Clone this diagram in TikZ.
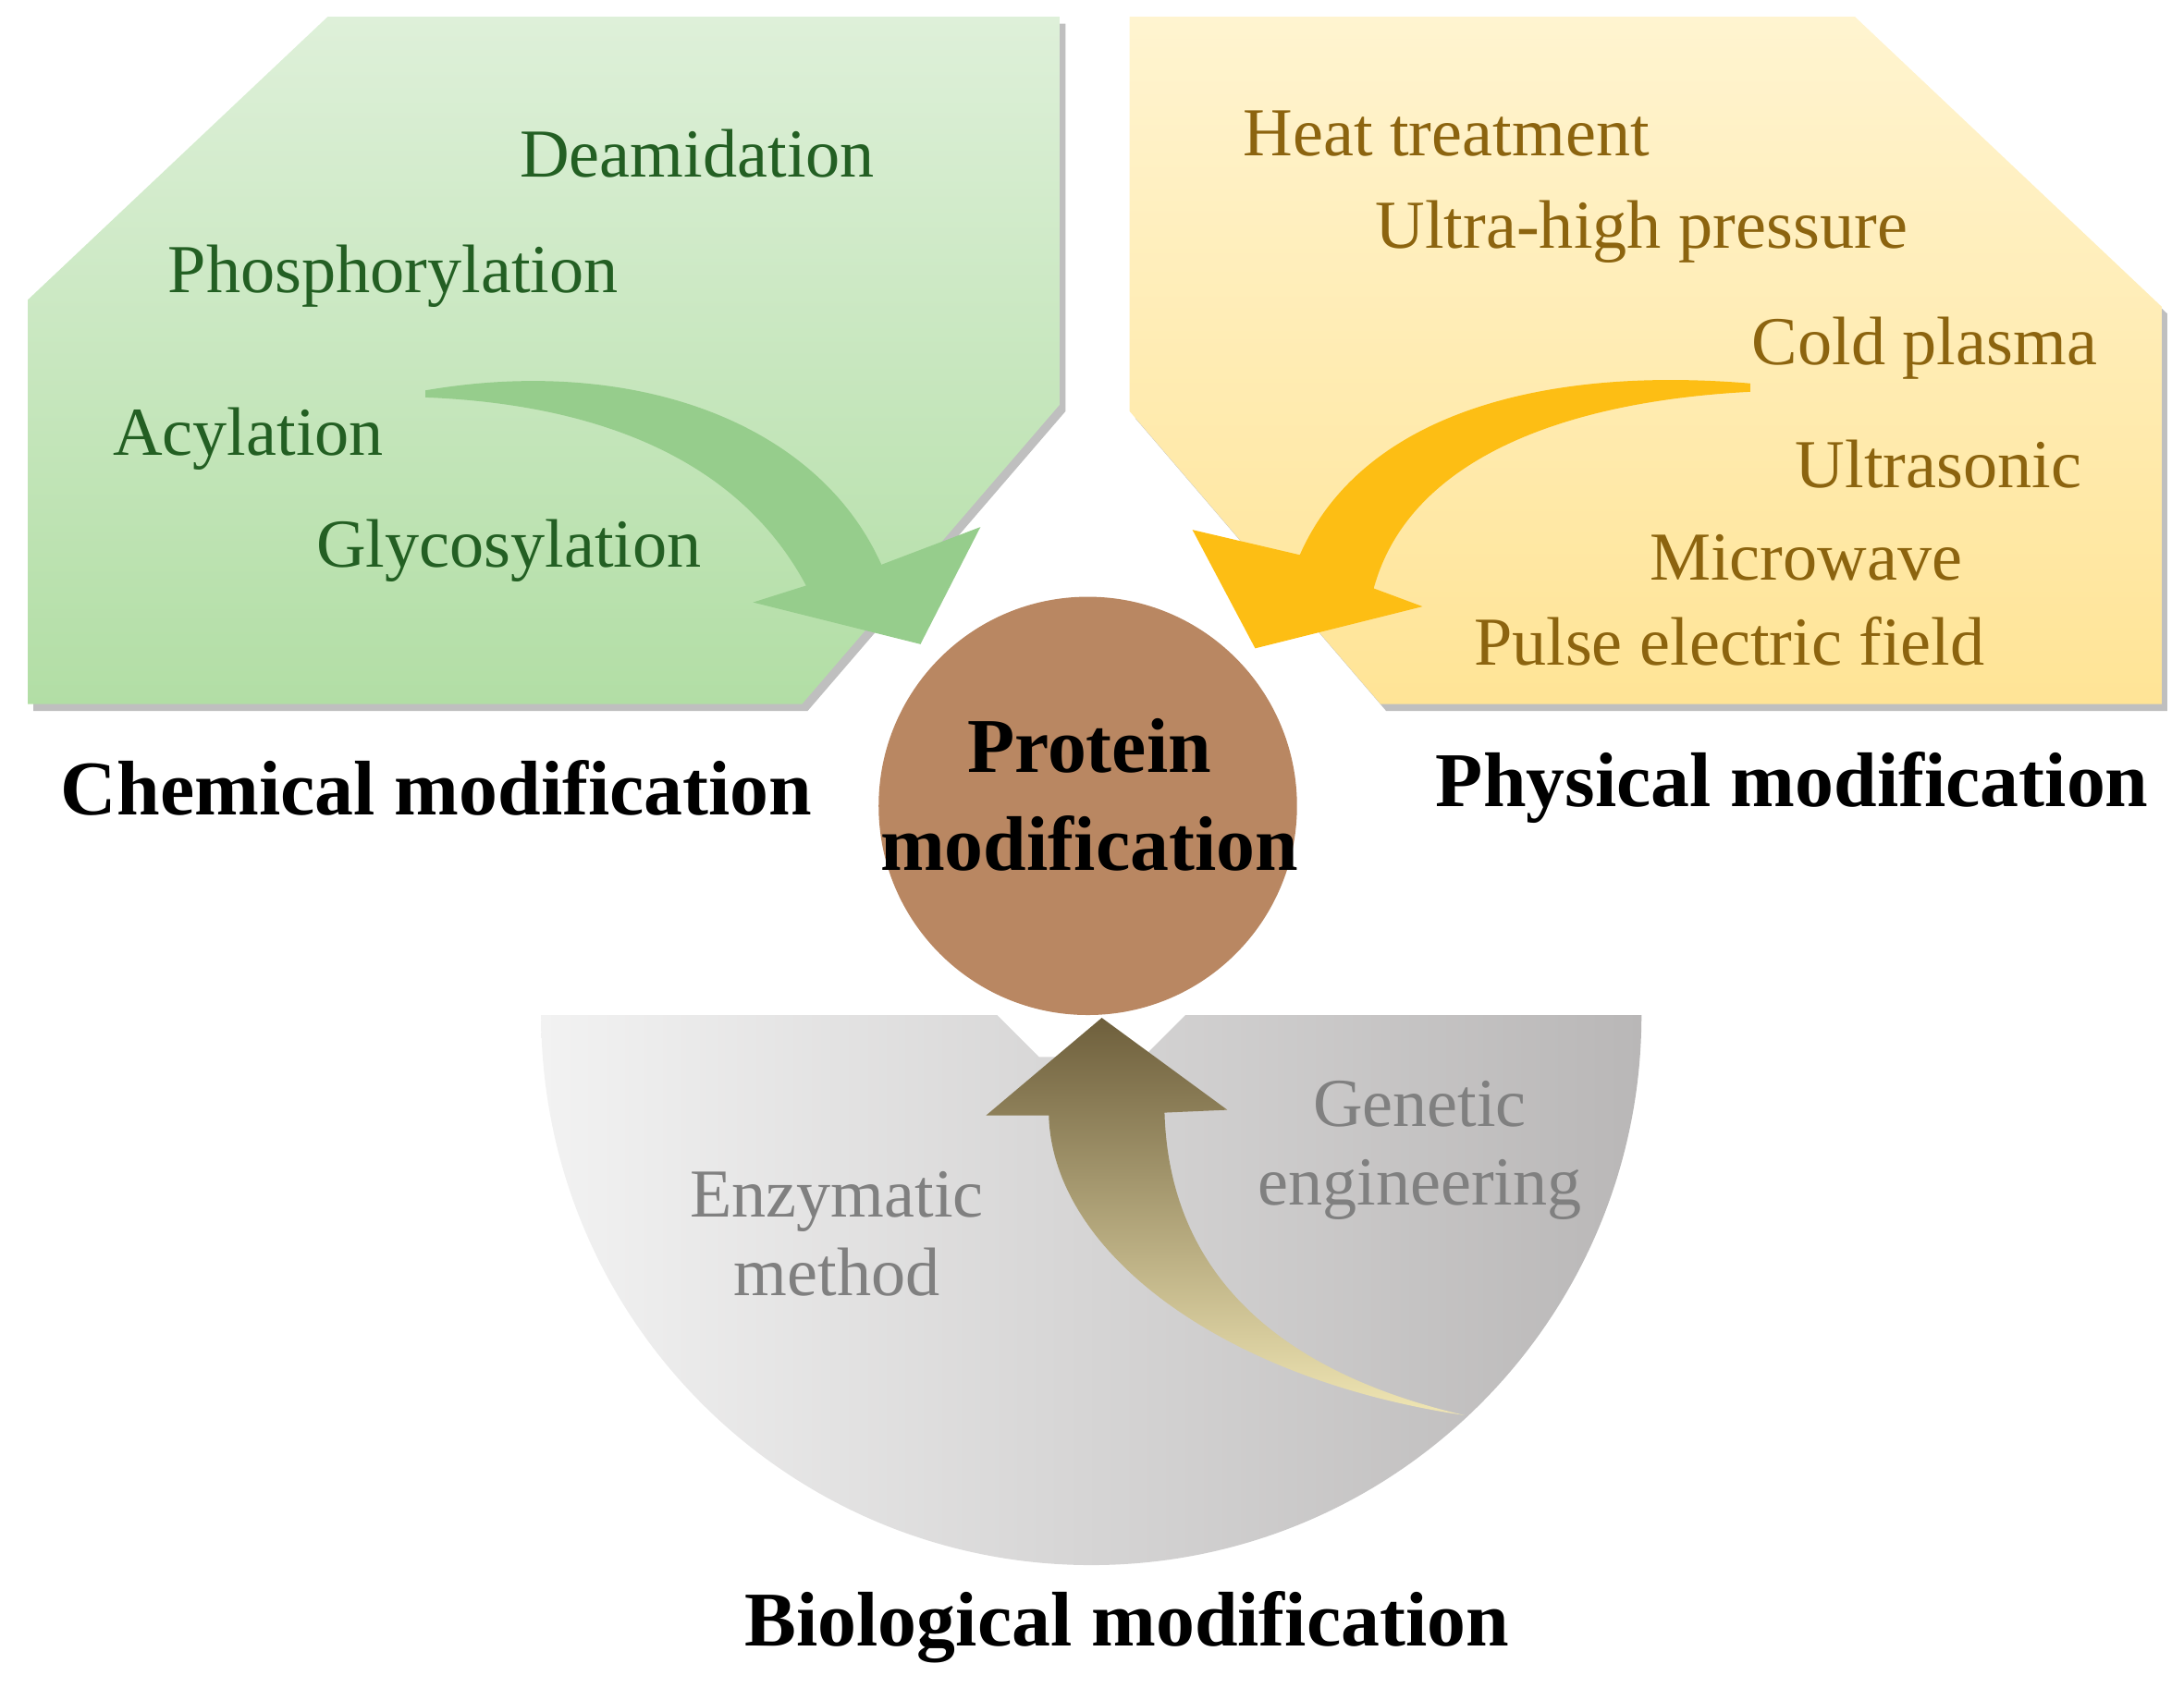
\documentclass[tikz,border=0pt]{standalone}
\usepackage{fontspec}
\setmainfont{Liberation Serif}
\definecolor{gtxt}{RGB}{35,95,35}
\definecolor{ytxt}{RGB}{140,100,15}
\definecolor{btxt}{RGB}{128,128,128}
\definecolor{brownc}{RGB}{185,135,98}
\definecolor{gtop}{RGB}{222,240,217}
\definecolor{gbot}{RGB}{178,222,165}
\definecolor{ytop}{RGB}{255,244,208}
\definecolor{ybot}{RGB}{255,228,150}
\definecolor{grl}{RGB}{242,242,242}
\definecolor{grr}{RGB}{185,183,183}
\definecolor{garrow}{RGB}{150,205,140}
\definecolor{yarrow}{RGB}{253,190,20}
\definecolor{btop}{RGB}{110,95,60}
\definecolor{bbot}{RGB}{240,230,180}
\begin{document}
\begin{tikzpicture}[x=0.01cm,y=-0.01cm,
  item/.style={font=\fontsize{14}{16}\selectfont},
  title/.style={font=\fontsize{15.8}{18}\selectfont\bfseries}]
\useasboundingbox (0,0) rectangle (1566,1210);
% shadows
\fill[black!25] (24,220)--(239,17)--(764,17)--(764,295)--(579,510)--(24,510)--cycle;
\fill[black!25] (814,17)--(1334,17)--(1554,225)--(1554,510)--(994,510)--(814,300)--cycle;
% green panel
\shade[top color=gtop,bottom color=gbot]
  (20,215)--(235,12)--(760,12)--(760,290)--(575,505)--(20,505)--cycle;
% yellow panel
\shade[top color=ytop,bottom color=ybot]
  (810,12)--(1330,12)--(1550,220)--(1550,505)--(990,505)--(810,295)--cycle;
% gray half disc
\shade[left color=grl,right color=grr]
  (388,728)--(715,728)--(745,758)--(820,758)--(850,728)--(1177,728) arc[start angle=0,end angle=180,radius=394.5]--cycle;
% green arrow
\fill[garrow] (305,280) .. controls (450,255) and (585,300) .. (632,405)
  -- (703,378) -- (660,462) -- (540,432) -- (578,420) .. controls (530,330) and (430,290) .. (305,285) -- cycle;
% yellow arrow
\fill[yarrow] (1255,275) .. controls (1100,262) and (975,300) .. (932,398)
  -- (855,380) -- (900,465) -- (1020,435) -- (985,422) .. controls (1010,330) and (1120,288) .. (1255,281) -- cycle;
% brown arrow
\shade[top color=btop,bottom color=bbot]
  (1050,1015) .. controls (880,990) and (755,900) .. (752,800) -- (707,800) -- (790,730) -- (880,796)
  -- (835,798) .. controls (838,900) and (900,980) .. (1050,1015) -- cycle;
% center circle
\fill[brownc] (780,578) circle[radius=150];
\node[align=center,font=\fontsize{15.8}{20}\selectfont\bfseries] (pm) at (781,570) {Protein\\modification};
% texts
\node[item,text=gtxt] (t1) at (500,110) {Deamidation};
\node[item,text=gtxt] (t2) at (282,198) {Phosphorylation};
\node[item,text=gtxt] (t3) at (178,315) {Acylation};
\node[item,text=gtxt] (t4) at (365,395) {Glycosylation};
\node[item,text=ytxt] (p1) at (1037,96) {Heat treatment};
\node[item,text=ytxt] (p2) at (1177,166) {Ultra-high pressure};
\node[item,text=ytxt] (p3) at (1380,250) {Cold plasma};
\node[item,text=ytxt] (p4) at (1390,333) {Ultrasonic};
\node[item,text=ytxt] (p5) at (1295,400) {Microwave};
\node[item,text=ytxt] (p6) at (1240,460) {Pulse electric field};
\node[item,text=btxt,align=center] (b1) at (600,885) {Enzymatic\\method};
\node[item,text=btxt,align=center] (b2) at (1018,825) {Genetic\\engineering};
\node[title] (c) at (313,565) {Chemical modification};
\node[title] (ph) at (1285,565) {Physical modification};
\node[title] (bi) at (808,1167) {Biological modification};
\end{tikzpicture}
\end{document}
